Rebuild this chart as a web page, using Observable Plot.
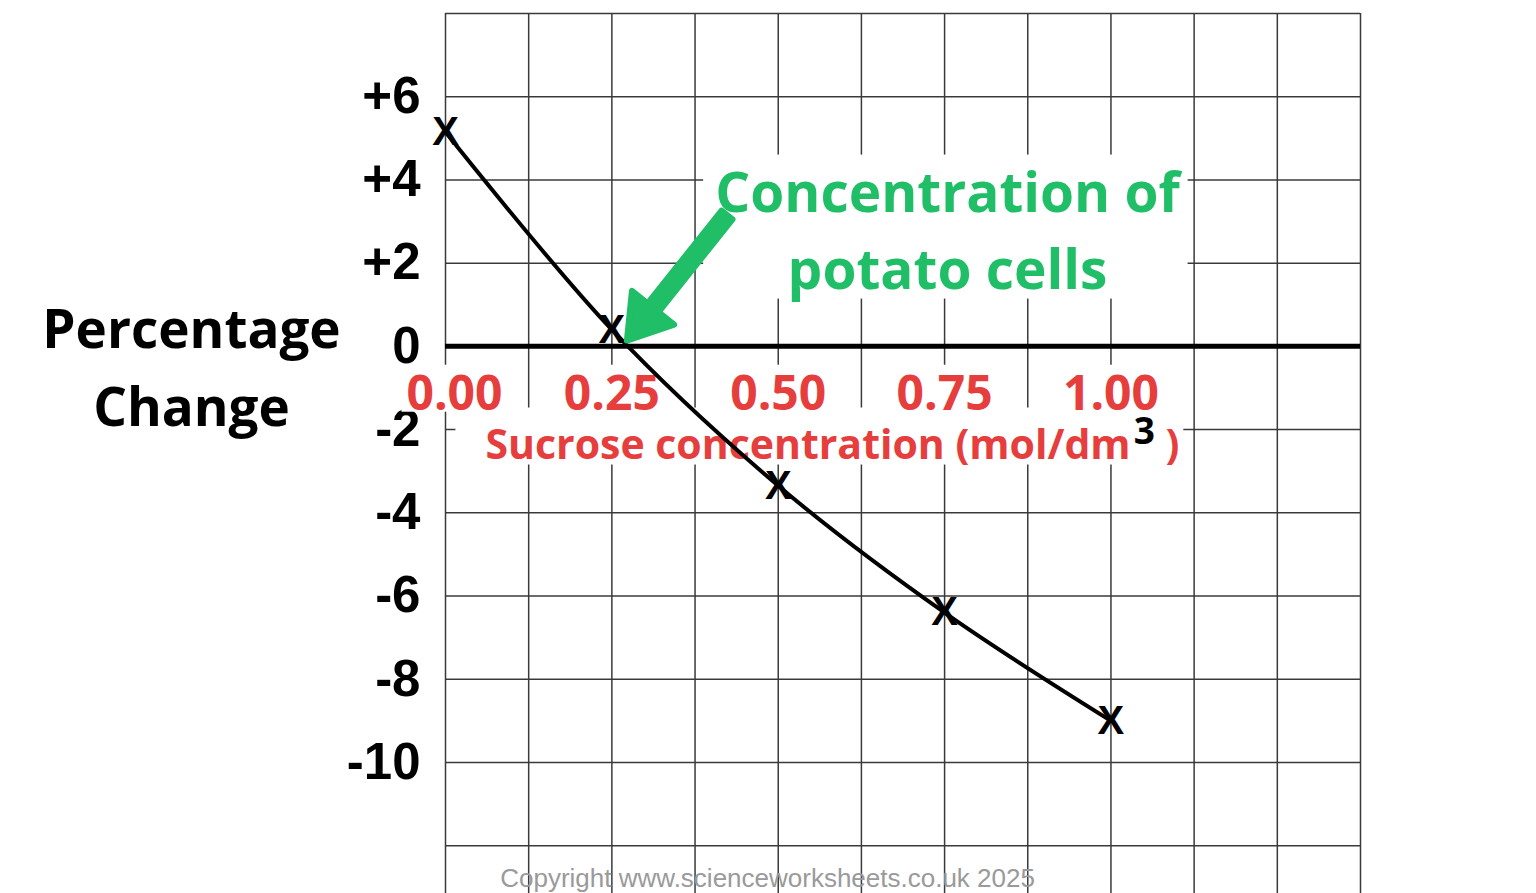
<!DOCTYPE html>
<html>
<head>
<meta charset="utf-8">
<script src="https://cdn.jsdelivr.net/npm/d3@7"></script>
<script src="https://cdn.jsdelivr.net/npm/@observablehq/plot@0.6"></script>
<style>
html, body { margin: 0; padding: 0; background: #fff; overflow: hidden; }
#chart svg { display: block; }
</style>
</head>
<body>
<div id="chart"></div>
<script>
// ---- Data ----
const sucrose = [0, 0.25, 0.5, 0.75, 1.0];
const pctChange = [5.15, 0.4, -3.35, -6.4, -9.0];

// ---- Tick values and labels ----
const xTickValues = [0, 0.25, 0.5, 0.75, 1.0];
const xTickLabels = ["0.00", "0.25", "0.50", "0.75", "1.00"];
const yTickValues = [6, 4, 2, 0, -2, -4, -6, -8, -10];
const yTickLabels = ["+6", "+4", "+2", "0", "-2", "-4", "-6", "-8", "-10"];

// ---- Graph-paper grid lines ----
const xGridLines = [0, 0.125, 0.25, 0.375, 0.5, 0.625, 0.75, 0.875, 1.0, 1.125, 1.25, 1.375];
const yGridLines = [8, 6, 4, 2, 0, -2, -4, -6, -8, -10, -12];

// ---- Texts ----
const yAxisTitle = "Percentage\nChange";
const xAxisTitle = "Sucrose concentration (mol/dm";
const xAxisTitleSup = "3";
const xAxisTitleEnd = " )";
const annotationText = "Concentration of\npotato cells";
const copyrightText = "Copyright www.scienceworksheets.co.uk 2025";

// ---- Annotation anchors (data units) ----
const annotationAt = [{x: 0.7544, y: 2.906}];
const yTitleAt = [{x: -0.3817, y: -0.375}];
const xTitleAt = [{x: 0.06, y: -2.38}];
const copyrightAt = [{x: 0.484, y: -12.79}];
const arrowTail = {x: 0.4238, y: 3.146};
const arrowTip = {x: 0.2705, y: 0.07};

const points = sucrose.map((s, i) => ({sucrose: s, change: pctChange[i]}));

const RED = "#e63d3d", GREEN = "#1fbe67", GRID = "#3a3a3a";
const ROUNDED = "'Open Sans', 'Noto Sans', sans-serif";
const ARIAL = "'Liberation Sans', Arial, sans-serif";

const xTickStyle = {fontSize: 48, fontWeight: 700, fontFamily: ROUNDED, fill: RED};

const plot = Plot.plot({
  width: 1536,
  height: 893,
  marginLeft: 445,
  marginRight: 176,
  marginTop: 13,
  marginBottom: 0,
  x: {domain: [0, 1.375], axis: null},
  y: {domain: [-13.15, 8], axis: null},
  style: {background: "#fff", overflow: "hidden"},
  marks: [
    Plot.ruleX(xGridLines, {stroke: GRID, strokeWidth: 1.5}),
    Plot.ruleY(yGridLines, {stroke: GRID, strokeWidth: 1.5}),
    Plot.ruleY([0], {stroke: "#000", strokeWidth: 5}),
    // text mark 0: y tick labels
    Plot.text(yTickValues, {
      x: 0, y: d => d, text: (d, i) => yTickLabels[i],
      dx: -25, textAnchor: "end", fontSize: 51, fontWeight: "bold",
      fontFamily: ARIAL, fill: "#000"
    }),
    // text mark 1: x title
    Plot.text(xTitleAt, {
      x: "x", y: "y", text: () => xAxisTitle, textAnchor: "start",
      fontSize: 41, fontWeight: 700, fontFamily: ROUNDED, fill: RED
    }),
    // text mark 2: first x tick label (nudged right, as in the reference)
    Plot.text(xTickValues, {
      filter: (d, i) => i === 0,
      x: d => d, y: 0, text: (d, i) => xTickLabels[i],
      dx: 9, dy: 48, ...xTickStyle
    }),
    // text mark 3: other x tick labels
    Plot.text(xTickValues, {
      filter: (d, i) => i > 0,
      x: d => d, y: 0, text: (d, i) => xTickLabels[i],
      dy: 48, ...xTickStyle
    }),
    // text mark 4: y title
    Plot.text(yTitleAt, {
      x: "x", y: "y", text: () => yAxisTitle, lineHeight: 1.48,
      fontSize: 53, fontWeight: 700, fontFamily: ROUNDED, fill: "#000"
    }),
    // text mark 5: annotation
    Plot.text(annotationAt, {
      x: "x", y: "y", text: () => annotationText, lineHeight: 1.4,
      fontSize: 55, fontWeight: 700, fontFamily: ROUNDED, fill: GREEN
    }),
    // text mark 6: copyright
    Plot.text(copyrightAt, {
      x: "x", y: "y", text: () => copyrightText,
      fontSize: 26, fontFamily: ARIAL, fill: "#9a9a9a"
    }),
    Plot.line(points, {
      x: "sucrose", y: "change", curve: "catmull-rom",
      stroke: "#000", strokeWidth: 4
    }),
    // text mark 7: data point crosses
    Plot.text(points, {
      x: "sucrose", y: "change", text: () => "X",
      fontSize: 40, fontWeight: "bold", fontFamily: ARIAL, fill: "#000"
    })
  ]
});

document.getElementById("chart").append(plot);
const svg = d3.select(plot);
const sx = plot.scale("x"), sy = plot.scale("y");
const textGroups = svg.selectAll('g[aria-label="text"]').nodes();

// superscript "3" (black) and closing bracket for the x title
const titleText = d3.select(textGroups[1]).select("text");
titleText.append("tspan").attr("dy", -15).attr("dx", 3).attr("font-size", 37)
  .attr("font-weight", 700).attr("fill", "#000").text(xAxisTitleSup);
titleText.append("tspan").attr("dy", 15).attr("fill", RED).text(xAxisTitleEnd);

// white backgrounds behind texts that sit on the graph paper
function addBoxes(group, pad) {
  d3.select(group).selectAll("text").each(function () {
    const b = this.getBBox();
    const r = document.createElementNS("http://www.w3.org/2000/svg", "rect");
    const t = this.getAttribute("transform");
    if (t) r.setAttribute("transform", t);
    r.setAttribute("x", b.x - pad[0]);
    r.setAttribute("y", b.y - pad[1]);
    r.setAttribute("width", b.width + pad[0] + pad[2]);
    r.setAttribute("height", b.height + pad[1] + pad[3]);
    r.setAttribute("fill", "#fff");
    r.setAttribute("stroke", "none");
    this.parentNode.insertBefore(r, this);
  });
}
addBoxes(textGroups[1], [30, -4, 4, -6]);
addBoxes(textGroups[2], [5, -6, 5, -12]);
addBoxes(textGroups[3], [5, -6, 5, -12]);
addBoxes(textGroups[5], [12, -2, 5, -6]);

// green arrow pointing at the concentration of potato cells
(function drawArrow() {
  const tip = [sx.apply(arrowTip.x), sy.apply(arrowTip.y)];
  const tail = [sx.apply(arrowTail.x), sy.apply(arrowTail.y)];
  const dx = tail[0] - tip[0], dy = tail[1] - tip[1];
  const len = Math.hypot(dx, dy);
  const u = [dx / len, dy / len], n = [-u[1], u[0]];
  const inset = 3, L = 42, hw = 27, sw = 7;
  const T = [tip[0] + u[0] * inset, tip[1] + u[1] * inset];
  const B = [T[0] + u[0] * L, T[1] + u[1] * L];
  const p = (a, k) => [a[0] + n[0] * k, a[1] + n[1] * k];
  const pts = [T, p(B, hw), p(B, sw), p(tail, sw), p(tail, -sw), p(B, -sw), p(B, -hw)];
  svg.append("path")
    .attr("d", "M" + pts.map(q => q.join(",")).join("L") + "Z")
    .attr("fill", GREEN).attr("stroke", GREEN)
    .attr("stroke-width", 6).attr("stroke-linejoin", "round");
})();
</script>
</body>
</html>
